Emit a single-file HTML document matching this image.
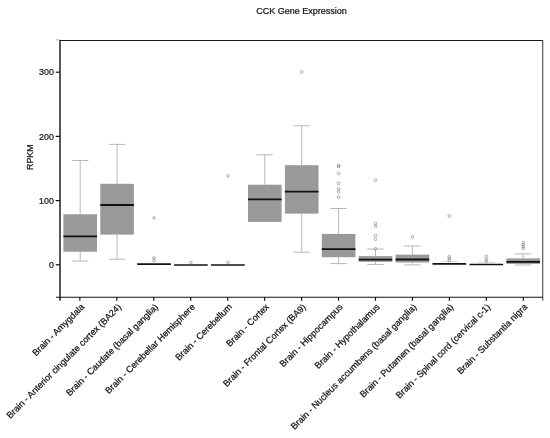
<!DOCTYPE html>
<html><head><meta charset="utf-8"><title>CCK Gene Expression</title>
<style>html,body{margin:0;padding:0;background:#fff;}body{width:550px;height:438px;overflow:hidden;}svg text{stroke:#111;stroke-width:0.22px;}</style></head>
<body>
<svg width="550" height="438" viewBox="0 0 550 438" style="display:block;font-family:'Liberation Sans',sans-serif">
<rect width="550" height="438" fill="#fff"/>
<g><line x1="80.2" x2="80.2" y1="160.5" y2="214.3" stroke="#b7b7b7" stroke-width="1"/><line x1="72.0" x2="88.4" y1="160.5" y2="160.5" stroke="#b7b7b7" stroke-width="1"/><line x1="80.2" x2="80.2" y1="251.7" y2="261.0" stroke="#b7b7b7" stroke-width="1"/><line x1="72.0" x2="88.4" y1="261.0" y2="261.0" stroke="#b7b7b7" stroke-width="1"/><rect x="63.4" y="214.3" width="33.6" height="37.4" fill="#999999"/><line x1="63.4" x2="97.0" y1="236.3" y2="236.3" stroke="#111" stroke-width="1.8"/></g>
<g><line x1="117.1" x2="117.1" y1="144.4" y2="183.8" stroke="#b7b7b7" stroke-width="1"/><line x1="108.9" x2="125.3" y1="144.4" y2="144.4" stroke="#b7b7b7" stroke-width="1"/><line x1="117.1" x2="117.1" y1="234.6" y2="259.2" stroke="#b7b7b7" stroke-width="1"/><line x1="108.9" x2="125.3" y1="259.2" y2="259.2" stroke="#b7b7b7" stroke-width="1"/><rect x="100.3" y="183.8" width="33.6" height="50.8" fill="#999999"/><line x1="100.3" x2="133.9" y1="205.0" y2="205.0" stroke="#111" stroke-width="1.8"/></g>
<g><line x1="137.2" x2="170.8" y1="264.2" y2="264.2" stroke="#111" stroke-width="1.7"/><circle cx="154.0" cy="217.9" r="1.35" fill="none" stroke="#7a7a7a" stroke-width="0.6"/><circle cx="154.0" cy="258" r="1.35" fill="none" stroke="#7a7a7a" stroke-width="0.6"/><circle cx="154.0" cy="260.7" r="1.35" fill="none" stroke="#7a7a7a" stroke-width="0.6"/></g>
<g><line x1="174.1" x2="207.7" y1="265.0" y2="265.0" stroke="#111" stroke-width="1.7"/><circle cx="190.9" cy="262.6" r="1.35" fill="none" stroke="#7a7a7a" stroke-width="0.6"/></g>
<g><line x1="211.1" x2="244.7" y1="265.0" y2="265.0" stroke="#111" stroke-width="1.7"/><circle cx="227.9" cy="175.8" r="1.35" fill="none" stroke="#7a7a7a" stroke-width="0.6"/><circle cx="227.9" cy="262.4" r="1.35" fill="none" stroke="#7a7a7a" stroke-width="0.6"/></g>
<g><line x1="264.8" x2="264.8" y1="154.8" y2="184.7" stroke="#b7b7b7" stroke-width="1"/><line x1="256.6" x2="273.0" y1="154.8" y2="154.8" stroke="#b7b7b7" stroke-width="1"/><rect x="248.0" y="184.7" width="33.6" height="37.2" fill="#999999"/><line x1="248.0" x2="281.6" y1="199.3" y2="199.3" stroke="#111" stroke-width="1.8"/></g>
<g><line x1="301.7" x2="301.7" y1="125.8" y2="165.2" stroke="#b7b7b7" stroke-width="1"/><line x1="293.5" x2="309.9" y1="125.8" y2="125.8" stroke="#b7b7b7" stroke-width="1"/><line x1="301.7" x2="301.7" y1="213.6" y2="252.2" stroke="#b7b7b7" stroke-width="1"/><line x1="293.5" x2="309.9" y1="252.2" y2="252.2" stroke="#b7b7b7" stroke-width="1"/><rect x="284.9" y="165.2" width="33.6" height="48.4" fill="#999999"/><line x1="284.9" x2="318.5" y1="191.6" y2="191.6" stroke="#111" stroke-width="1.8"/><circle cx="301.7" cy="71.8" r="1.35" fill="none" stroke="#7a7a7a" stroke-width="0.6"/></g>
<g><line x1="338.6" x2="338.6" y1="208.5" y2="233.9" stroke="#b7b7b7" stroke-width="1"/><line x1="330.4" x2="346.8" y1="208.5" y2="208.5" stroke="#b7b7b7" stroke-width="1"/><line x1="338.6" x2="338.6" y1="257.2" y2="263.6" stroke="#b7b7b7" stroke-width="1"/><line x1="330.4" x2="346.8" y1="263.6" y2="263.6" stroke="#b7b7b7" stroke-width="1"/><rect x="321.8" y="233.9" width="33.6" height="23.3" fill="#999999"/><line x1="321.8" x2="355.4" y1="249.1" y2="249.1" stroke="#111" stroke-width="1.8"/><circle cx="338.6" cy="165.6" r="1.35" fill="none" stroke="#7a7a7a" stroke-width="0.6"/><circle cx="338.6" cy="166.4" r="1.35" fill="none" stroke="#7a7a7a" stroke-width="0.6"/><circle cx="338.6" cy="173.5" r="1.35" fill="none" stroke="#7a7a7a" stroke-width="0.6"/><circle cx="338.6" cy="183.3" r="1.35" fill="none" stroke="#7a7a7a" stroke-width="0.6"/><circle cx="338.6" cy="189.0" r="1.35" fill="none" stroke="#7a7a7a" stroke-width="0.6"/><circle cx="338.6" cy="192.1" r="1.35" fill="none" stroke="#7a7a7a" stroke-width="0.6"/><circle cx="338.6" cy="197.1" r="1.35" fill="none" stroke="#7a7a7a" stroke-width="0.6"/></g>
<g><line x1="375.5" x2="375.5" y1="249.0" y2="256.1" stroke="#b7b7b7" stroke-width="1"/><line x1="367.3" x2="383.7" y1="249.0" y2="249.0" stroke="#b7b7b7" stroke-width="1"/><line x1="375.5" x2="375.5" y1="261.8" y2="264.4" stroke="#b7b7b7" stroke-width="1"/><line x1="367.3" x2="383.7" y1="264.4" y2="264.4" stroke="#b7b7b7" stroke-width="1"/><rect x="358.7" y="256.1" width="33.6" height="5.7" fill="#999999"/><line x1="358.7" x2="392.3" y1="259.6" y2="259.6" stroke="#111" stroke-width="1.8"/><circle cx="375.5" cy="180.3" r="1.35" fill="none" stroke="#7a7a7a" stroke-width="0.6"/><circle cx="375.5" cy="223.4" r="1.35" fill="none" stroke="#7a7a7a" stroke-width="0.6"/><circle cx="375.5" cy="226.1" r="1.35" fill="none" stroke="#7a7a7a" stroke-width="0.6"/><circle cx="375.5" cy="235.5" r="1.35" fill="none" stroke="#7a7a7a" stroke-width="0.6"/><circle cx="375.5" cy="239.3" r="1.35" fill="none" stroke="#7a7a7a" stroke-width="0.6"/><circle cx="375.5" cy="248.7" r="1.35" fill="none" stroke="#7a7a7a" stroke-width="0.6"/></g>
<g><line x1="412.4" x2="412.4" y1="246.0" y2="254.6" stroke="#b7b7b7" stroke-width="1"/><line x1="404.2" x2="420.6" y1="246.0" y2="246.0" stroke="#b7b7b7" stroke-width="1"/><line x1="412.4" x2="412.4" y1="262.5" y2="264.9" stroke="#b7b7b7" stroke-width="1"/><line x1="404.2" x2="420.6" y1="264.9" y2="264.9" stroke="#b7b7b7" stroke-width="1"/><rect x="395.6" y="254.6" width="33.6" height="7.9" fill="#999999"/><line x1="395.6" x2="429.2" y1="259.5" y2="259.5" stroke="#111" stroke-width="1.8"/><circle cx="412.4" cy="236.9" r="1.35" fill="none" stroke="#7a7a7a" stroke-width="0.6"/></g>
<g><line x1="441.1" x2="457.5" y1="261.4" y2="261.4" stroke="#b7b7b7" stroke-width="0.8" opacity="0.7"/><line x1="432.5" x2="466.1" y1="263.9" y2="263.9" stroke="#111" stroke-width="1.7"/><circle cx="449.3" cy="215.9" r="1.35" fill="none" stroke="#7a7a7a" stroke-width="0.6"/><circle cx="449.3" cy="256.8" r="1.35" fill="none" stroke="#7a7a7a" stroke-width="0.6"/><circle cx="449.3" cy="258.6" r="1.35" fill="none" stroke="#7a7a7a" stroke-width="0.6"/><circle cx="449.3" cy="260.5" r="1.35" fill="none" stroke="#7a7a7a" stroke-width="0.6"/></g>
<g><line x1="478.1" x2="494.5" y1="262.3" y2="262.3" stroke="#b7b7b7" stroke-width="0.8" opacity="0.7"/><line x1="469.5" x2="503.1" y1="264.5" y2="264.5" stroke="#111" stroke-width="1.7"/><circle cx="486.3" cy="256.4" r="1.35" fill="none" stroke="#7a7a7a" stroke-width="0.6"/><circle cx="486.3" cy="259.5" r="1.35" fill="none" stroke="#7a7a7a" stroke-width="0.6"/><circle cx="486.3" cy="261.4" r="1.35" fill="none" stroke="#7a7a7a" stroke-width="0.6"/></g>
<g><line x1="523.2" x2="523.2" y1="253.9" y2="258.4" stroke="#b7b7b7" stroke-width="1"/><line x1="515.0" x2="531.4" y1="253.9" y2="253.9" stroke="#b7b7b7" stroke-width="1"/><line x1="523.2" x2="523.2" y1="263.9" y2="265.0" stroke="#b7b7b7" stroke-width="1"/><line x1="515.0" x2="531.4" y1="265.0" y2="265.0" stroke="#b7b7b7" stroke-width="1"/><rect x="506.4" y="258.4" width="33.6" height="5.5" fill="#999999"/><line x1="506.4" x2="540.0" y1="261.8" y2="261.8" stroke="#111" stroke-width="1.8"/><circle cx="523.2" cy="242.7" r="1.35" fill="none" stroke="#7a7a7a" stroke-width="0.6"/><circle cx="523.2" cy="244.8" r="1.35" fill="none" stroke="#7a7a7a" stroke-width="0.6"/><circle cx="523.2" cy="246.6" r="1.35" fill="none" stroke="#7a7a7a" stroke-width="0.6"/><circle cx="523.2" cy="248.4" r="1.35" fill="none" stroke="#7a7a7a" stroke-width="0.6"/></g>
<line x1="60.0" x2="543.0" y1="40.45" y2="40.45" stroke="#1a1a1a" stroke-width="1.1"/>
<line x1="542.75" x2="542.75" y1="40.45" y2="300.7" stroke="#333" stroke-width="1.0"/>
<line x1="60.0" x2="60.0" y1="39.95" y2="300.7" stroke="#111" stroke-width="1.4"/>
<line x1="56.0" x2="543.0" y1="297.2" y2="297.2" stroke="#111" stroke-width="1.1"/>
<line x1="56.0" x2="60.0" y1="39.85" y2="39.85" stroke="#999" stroke-width="0.7"/>
<line x1="55.7" x2="60.0" y1="72.2" y2="72.2" stroke="#111" stroke-width="1.2"/>
<text x="53.8" y="75.3" font-size="8.8" text-anchor="end" fill="#111">300</text>
<line x1="55.7" x2="60.0" y1="136.4" y2="136.4" stroke="#111" stroke-width="1.2"/>
<text x="53.8" y="139.5" font-size="8.8" text-anchor="end" fill="#111">200</text>
<line x1="55.7" x2="60.0" y1="200.6" y2="200.6" stroke="#111" stroke-width="1.2"/>
<text x="53.8" y="203.7" font-size="8.8" text-anchor="end" fill="#111">100</text>
<line x1="55.7" x2="60.0" y1="264.8" y2="264.8" stroke="#111" stroke-width="1.2"/>
<text x="53.8" y="267.90000000000003" font-size="8.8" text-anchor="end" fill="#111">0</text>
<line x1="79.85" x2="79.85" y1="297.2" y2="300.7" stroke="#111" stroke-width="1.2"/>
<text transform="translate(84.9,307.5) rotate(-45)" font-size="9.1" text-anchor="end" fill="#111">Brain - Amygdala</text>
<line x1="116.80" x2="116.80" y1="297.2" y2="300.7" stroke="#111" stroke-width="1.2"/>
<text transform="translate(121.8,307.5) rotate(-45)" font-size="9.1" text-anchor="end" fill="#111">Brain - Anterior cingulate cortex (BA24)</text>
<line x1="153.76" x2="153.76" y1="297.2" y2="300.7" stroke="#111" stroke-width="1.2"/>
<text transform="translate(158.7,307.5) rotate(-45)" font-size="9.1" text-anchor="end" fill="#111">Brain - Caudate (basal ganglia)</text>
<line x1="190.71" x2="190.71" y1="297.2" y2="300.7" stroke="#111" stroke-width="1.2"/>
<text transform="translate(195.6,307.5) rotate(-45)" font-size="9.1" text-anchor="end" fill="#111">Brain - Cerebellar Hemisphere</text>
<line x1="227.67" x2="227.67" y1="297.2" y2="300.7" stroke="#111" stroke-width="1.2"/>
<text transform="translate(232.6,307.5) rotate(-45)" font-size="9.1" text-anchor="end" fill="#111">Brain - Cerebellum</text>
<line x1="264.62" x2="264.62" y1="297.2" y2="300.7" stroke="#111" stroke-width="1.2"/>
<text transform="translate(269.5,307.5) rotate(-45)" font-size="9.1" text-anchor="end" fill="#111">Brain - Cortex</text>
<line x1="301.58" x2="301.58" y1="297.2" y2="300.7" stroke="#111" stroke-width="1.2"/>
<text transform="translate(306.4,307.5) rotate(-45)" font-size="9.1" text-anchor="end" fill="#111">Brain - Frontal Cortex (BA9)</text>
<line x1="338.53" x2="338.53" y1="297.2" y2="300.7" stroke="#111" stroke-width="1.2"/>
<text transform="translate(343.3,307.5) rotate(-45)" font-size="9.1" text-anchor="end" fill="#111">Brain - Hippocampus</text>
<line x1="375.49" x2="375.49" y1="297.2" y2="300.7" stroke="#111" stroke-width="1.2"/>
<text transform="translate(380.2,307.5) rotate(-45)" font-size="9.1" text-anchor="end" fill="#111">Brain - Hypothalamus</text>
<line x1="412.44" x2="412.44" y1="297.2" y2="300.7" stroke="#111" stroke-width="1.2"/>
<text transform="translate(417.1,307.5) rotate(-45)" font-size="9.1" text-anchor="end" fill="#111">Brain - Nucleus accumbens (basal ganglia)</text>
<line x1="449.40" x2="449.40" y1="297.2" y2="300.7" stroke="#111" stroke-width="1.2"/>
<text transform="translate(454.0,307.5) rotate(-45)" font-size="9.1" text-anchor="end" fill="#111">Brain - Putamen (basal ganglia)</text>
<line x1="486.36" x2="486.36" y1="297.2" y2="300.7" stroke="#111" stroke-width="1.2"/>
<text transform="translate(491.0,307.5) rotate(-45)" font-size="9.1" text-anchor="end" fill="#111">Brain - Spinal cord (cervical c-1)</text>
<line x1="523.31" x2="523.31" y1="297.2" y2="300.7" stroke="#111" stroke-width="1.2"/>
<text transform="translate(527.9,307.5) rotate(-45)" font-size="9.1" text-anchor="end" fill="#111">Brain - Substantia nigra</text>
<text transform="translate(32.6,157.2) rotate(-90)" font-size="8.8" text-anchor="middle" fill="#111">RPKM</text>
<text x="301.6" y="14.15" font-size="9.0" text-anchor="middle" fill="#111">CCK Gene Expression</text>
</svg>
</body></html>
